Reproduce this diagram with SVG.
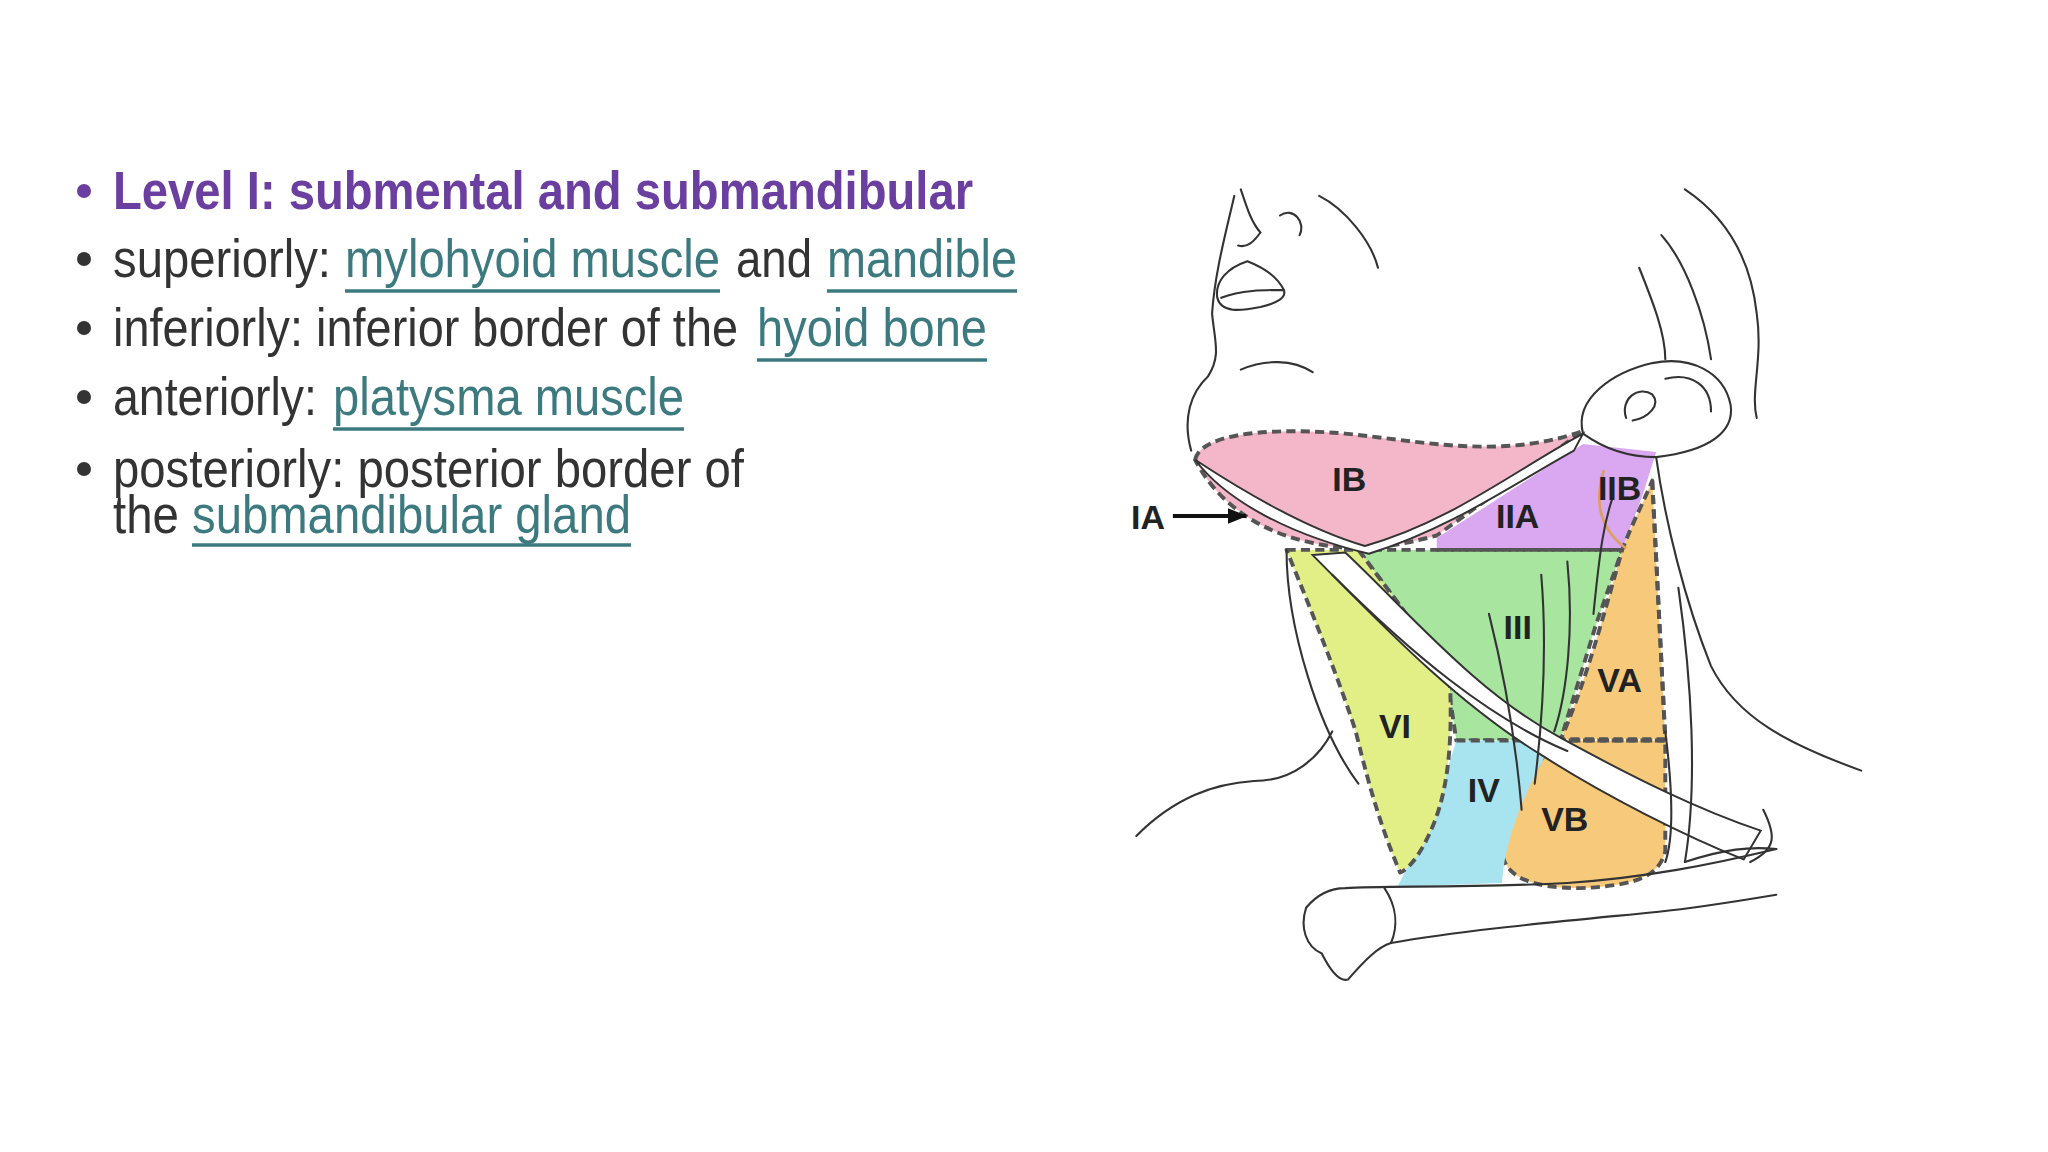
<svg xmlns="http://www.w3.org/2000/svg" width="2048" height="1152" viewBox="0 0 2048 1152">
<style>
.t{font-family:"Liberation Sans",Arial,sans-serif;font-size:54px;fill:#333}
.b{font-weight:bold;fill:#6b3fa0}
.l{fill:#3c7a80}
.ul{stroke:#3c7a80;stroke-width:3.5}
.reg{stroke:#555;stroke-width:3;stroke-dasharray:7 4;stroke-linejoin:round}
.ln{fill:none;stroke:#333;stroke-width:1.6;stroke-linecap:round}
.lab{font-family:"Liberation Sans",Arial,sans-serif;font-weight:bold;font-size:26px;fill:#222;text-anchor:middle}
</style>
<defs><marker id="ah" markerUnits="userSpaceOnUse" markerWidth="16" markerHeight="14" refX="14" refY="7" orient="auto"><path d="M0,1 L15,7 L0,13z" fill="#111"/></marker></defs>
<rect width="2048" height="1152" fill="#fff"/>
<g id="text">
<circle cx="84" cy="191" r="7" fill="#6b3fa0"/>
<text class="t b" x="113" y="209" textLength="860" lengthAdjust="spacingAndGlyphs">Level I: submental and submandibular</text>
<circle cx="84" cy="259" r="7" fill="#333"/>
<text class="t" x="113" y="277" textLength="218" lengthAdjust="spacingAndGlyphs">superiorly:</text>
<text class="t l" x="345" y="277" textLength="375" lengthAdjust="spacingAndGlyphs">mylohyoid muscle</text>
<text class="t" x="736" y="277" textLength="76" lengthAdjust="spacingAndGlyphs">and</text>
<text class="t l" x="827" y="277" textLength="190" lengthAdjust="spacingAndGlyphs">mandible</text>
<line class="ul" x1="345" y1="291" x2="720" y2="291"/><line class="ul" x1="827" y1="291" x2="1017" y2="291"/>
<circle cx="84" cy="328" r="7" fill="#333"/>
<text class="t" x="113" y="346" textLength="625" lengthAdjust="spacingAndGlyphs">inferiorly: inferior border of the</text>
<text class="t l" x="757" y="346" textLength="230" lengthAdjust="spacingAndGlyphs">hyoid bone</text>
<line class="ul" x1="757" y1="360" x2="987" y2="360"/>
<circle cx="84" cy="397" r="7" fill="#333"/>
<text class="t" x="113" y="415" textLength="204" lengthAdjust="spacingAndGlyphs">anteriorly:</text>
<text class="t l" x="333" y="415" textLength="351" lengthAdjust="spacingAndGlyphs">platysma muscle</text>
<line class="ul" x1="333" y1="429" x2="684" y2="429"/>
<circle cx="84" cy="469" r="7" fill="#333"/>
<text class="t" x="113" y="487" textLength="631" lengthAdjust="spacingAndGlyphs">posteriorly: posterior border of</text>
<text class="t" x="113" y="533" textLength="66" lengthAdjust="spacingAndGlyphs">the</text>
<text class="t l" x="192" y="533" textLength="439" lengthAdjust="spacingAndGlyphs">submandibular gland</text>
<line class="ul" x1="192" y1="545" x2="631" y2="545"/>
</g>
<g id="diagram" transform="scale(1.30612)">
<g id="regions">
<path id="IB" class="reg" fill="#f4b6c9" d="M915,352 C918,335 960,326 1030,332 C1090,338 1150,352 1212,330 L1100,410 C1075,417 1050,420 1040,420 C990,418 940,400 915,352Z"/>
<path id="IIA" fill="#d9a8f0" d="M1100,412 L1212,340 L1268,346 L1258,378 L1242,421 L1100,421Z"/>
<path id="III" class="reg" fill="#a8e6a0" d="M1040,421 L1242,421 L1222,478 L1195,566 L1115,567 L1108,520 L1078,472Z"/>
<path id="VA" class="reg" fill="#f7c97a" d="M1265,368 L1275,566 L1195,566 C1215,520 1228,470 1242,421 C1250,400 1258,385 1265,368Z"/>
<path id="VB" class="reg" fill="#f7c97a" d="M1190,567 L1275,567 L1275,652 C1270,670 1255,678 1210,680 C1170,680 1150,670 1150,650 C1155,625 1170,595 1190,567Z"/>
<path id="IV" fill="#a8e4f0" d="M1115,567 L1190,567 C1170,600 1152,640 1150,676 L1070,679 C1085,650 1102,610 1115,567Z"/>
<path id="VI" class="reg" fill="#e2ef86" d="M985,421 L1040,421 L1078,472 L1110,520 C1112,560 1110,600 1098,630 C1090,650 1080,665 1072,668 C1060,640 1050,610 1038,560 C1025,520 1005,470 985,421Z"/>
<path class="reg" fill="none" d="M1100,421 L1242,421 M1115,567 L1275,567 M1265,368 L1275,566"/>
<path fill="none" stroke="#d9a060" stroke-width="2" d="M1228,360 C1220,385 1225,405 1245,420"/>
</g>
<g id="lines">
<path fill="#fff" stroke="#333" stroke-width="1.5" d="M915,352 C950,375 1000,405 1045,418 C1110,400 1160,360 1212,332 L1205,345 C1160,370 1110,405 1048,424 C990,410 940,385 915,352Z"/>
<path fill="#fff" stroke="#333" stroke-width="1.5" d="M1005,425 L1030,423 C1080,470 1130,530 1195,565 C1250,595 1300,620 1348,636 L1335,658 C1290,640 1230,610 1180,578 C1110,535 1050,470 1005,425Z"/>
<path class="ln" d="M1020,440 C1080,500 1140,550 1200,575 M1140,470 C1150,510 1160,560 1165,620 M1180,440 C1185,500 1180,560 1175,600 M1200,430 C1205,480 1200,530 1190,560 M1235,380 C1228,400 1225,420 1220,470"/>
<path class="ln" d="M1275,560 C1280,600 1282,640 1275,660 M1285,450 C1295,520 1300,600 1290,660"/>
<path class="ln" d="M950,145 C955,160 958,170 965,178 C960,185 955,190 948,188 M955,200 C940,205 930,215 932,228 C935,240 950,238 965,235 C978,232 985,228 983,222 C978,212 968,205 955,200 M935,228 C950,222 968,222 983,222"/>
<path class="ln" d="M945,150 C938,180 930,210 928,240 C930,262 935,272 925,288 C912,300 905,320 912,345"/>
<path class="ln" d="M950,283 C968,275 990,275 1005,285 M980,165 C990,158 1000,170 995,180 M1010,150 C1030,160 1050,185 1055,205"/>
<path class="ln" d="M985,421 C985,480 1010,560 1040,600 M870,640 C900,610 930,600 960,598 C990,598 1010,580 1020,560"/>
<path class="ln" d="M1212,332 C1205,305 1235,285 1265,278 C1295,272 1320,285 1325,310 C1328,330 1310,345 1268,350 C1250,350 1230,345 1212,332"/>
<path class="ln" d="M1245,320 C1240,305 1255,295 1265,302 C1272,310 1262,320 1250,322 M1275,290 C1295,285 1310,295 1310,315"/>
<path class="ln" d="M1290,145 C1320,165 1340,195 1345,240 C1350,275 1340,300 1345,320 M1272,180 C1290,200 1305,240 1310,275 M1255,205 C1265,230 1275,255 1275,275"/>
<path class="ln" d="M1268,350 C1275,400 1290,460 1310,510 C1330,550 1370,570 1425,590"/>
<path class="ln" d="M1350,620 C1360,640 1360,650 1340,660 M1290,660 C1320,650 1340,648 1360,650"/>
<path class="ln" d="M1000,695 C995,710 1000,725 1012,730 C1018,742 1025,752 1032,750 C1045,735 1055,725 1065,722 C1120,712 1200,705 1270,698 C1300,695 1330,690 1360,685 M1000,695 C1010,683 1020,680 1030,680 C1060,678 1120,680 1200,676 C1260,672 1310,662 1360,650"/>
<path class="ln" d="M1060,680 C1070,695 1070,710 1065,722"/>
</g>
<g id="labels">
<text class="lab" x="1033" y="376">IB</text>
<text class="lab" x="1162" y="404">IIA</text>
<text class="lab" x="1240" y="383">IIB</text>
<text class="lab" x="879" y="405">IA</text>
<text class="lab" x="1162" y="489">III</text>
<text class="lab" x="1240" y="530">VA</text>
<text class="lab" x="1068" y="565">VI</text>
<text class="lab" x="1136" y="614">IV</text>
<text class="lab" x="1198" y="636">VB</text>
</g>
<g id="connectors">
<line x1="898" y1="395" x2="954" y2="395" stroke="#111" stroke-width="3" marker-end="url(#ah)"/>
</g>
</g>
</svg>
